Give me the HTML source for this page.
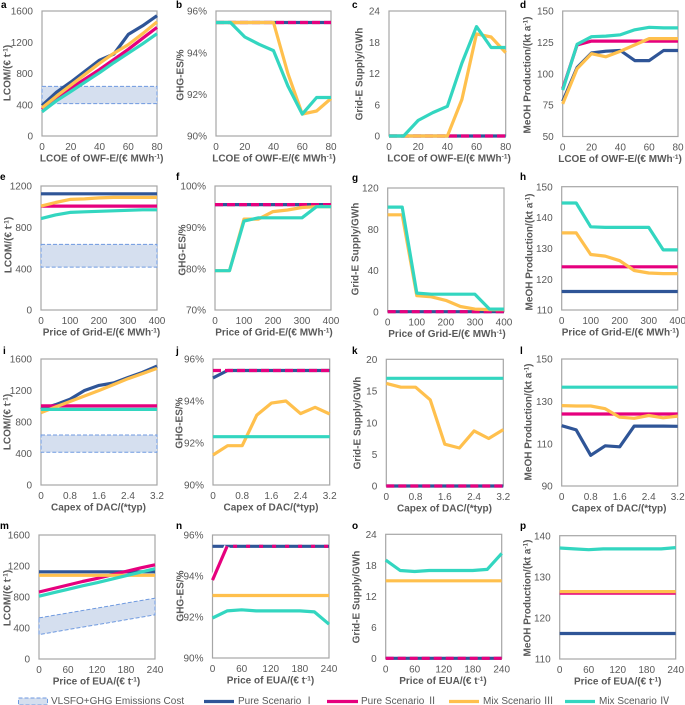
<!DOCTYPE html>
<html lang="en">
<head>
<meta charset="utf-8">
<title>Sensitivity analysis of LCOM, GHG-ES, Grid-E supply and MeOH production</title>
<style>
html,body{margin:0;padding:0;background:#fff;}
svg{display:block;font-family:"Liberation Sans","Noto Sans CJK SC",sans-serif;filter:blur(0.35px);}
</style>
</head>
<body>
<svg id="figure" xmlns="http://www.w3.org/2000/svg" width="685" height="705" viewBox="0 0 685 705">
  <g id="panels"></g>
  <g font-size="10" fill="#595959">
    <g>
      <rect x="18.5" y="698" width="29" height="7" fill="#d5dfef" stroke="#6f9ae0" stroke-width="1" stroke-dasharray="4 2"/>
      <text x="51" y="704">VLSFO+GHG Emissions Cost</text>
    </g>
    <g>
      <line x1="204" x2="234" y1="701.5" y2="701.5" stroke="#2f5597" stroke-width="3.2"/>
      <text x="238" y="704">Pure Scenario Ⅰ</text>
    </g>
    <g>
      <line x1="327" x2="358" y1="701.5" y2="701.5" stroke="#e6007e" stroke-width="3.2"/>
      <text x="361" y="704">Pure Scenario Ⅱ</text>
    </g>
    <g>
      <line x1="449" x2="479" y1="701.5" y2="701.5" stroke="#ffc04d" stroke-width="3.2"/>
      <text x="483" y="704">Mix Scenario Ⅲ</text>
    </g>
    <g>
      <line x1="565" x2="595" y1="701.5" y2="701.5" stroke="#33d6c0" stroke-width="3.2"/>
      <text x="599" y="704">Mix Scenario Ⅳ</text>
    </g>
  </g>
</svg>
<script>
// Sweep points (categories) for each row
const lcoePoints = [0,10,20,30,40,50,60,70,80];
const gridPoints = [0,50,100,150,200,250,300,350,400];
const dacPoints  = [0,0.4,0.8,1.2,1.6,2,2.4,2.8,3.2];
const euaPoints  = [0,30,60,90,120,150,180,210,240];

// X tick labels
const lcoeTicks = [0,20,40,60,80];
const gridTicks = [0,100,200,300,400];
const dacTicks  = [0,0.8,1.6,2.4,3.2];
const euaTicks  = [0,60,120,180,240];

// Y tick labels
const lcomTicks = [0,400,800,1200,1600];
const lcomTicksE = [0,400,800,1200];
const ghgTicks = [90,92,94,96];
const ghgTicksF = [70,80,90,100];
const gridSupplyTicksC = [0,6,12,18,24];
const gridSupplyTicksG = [0,40,80,120];
const gridSupplyTicksK = [0,5,10,15,20];
const meohTicksD = [50,75,100,125,150];
const meohTicksH = [110,120,130,140,150];
const meohTicksL = [90,110,130,150];
const meohTicksP = [110,120,130,140];

// VLSFO + GHG band
const bandLowFlat  = [415,415,415,415,415,415,415,415,415];
const bandHighFlat = [635,635,635,635,635,635,635,635,635];
const bandLowEua   = [315,347,379,411,442,474,506,538,570];
const bandHighEua  = [530,562,594,626,657,689,721,753,785];

// Panel a
const aPure1 = [390,560,690,830,970,1050,1300,1410,1540];
const aPure2 = [340,490,610,730,850,980,1110,1250,1390];
const aMix3  = [360,510,650,790,930,1060,1170,1310,1460];
const aMix4  = [310,450,570,690,810,940,1060,1180,1310];
// Panel b
const bPure1 = [95.45,95.45,95.45,95.45,95.45,95.45,95.45,95.45,95.45];
const bPure2 = [95.45,95.45,95.45,95.45,95.45,95.45,95.45,95.45,95.45];
const bMix3  = [95.45,95.45,95.45,95.45,95.45,93,91.05,91.2,91.8];
const bMix4  = [95.45,95.45,94.75,94.4,94.1,92.4,91.05,91.85,91.85];
// Panel c
const cPure1 = [0,0,0,0,0,0,0,0,0];
const cPure2 = [0,0,0,0,0,0,0,0,0];
const cMix3  = [0,0,0,0,0,7,19.6,19,16];
const cMix4  = [0,0,3,4.5,5.7,14,21,17,17];
// Panel d
const dPure1 = [78,105,116.5,118,118.5,110.5,110.5,118.5,118.5];
const dPure2 = [88,123,126,126,126,126,126,126,126];
const dMix3  = [76,104,116,113.5,118,123,128,128,128];
const dMix4  = [87,123.5,129.5,130,131,135,137,136.5,136.5];
// Panel e
const ePure1 = [1125,1125,1125,1125,1125,1125,1125,1125,1125];
const ePure2 = [1005,1005,1005,1005,1005,1005,1005,1005,1005];
const eMix3  = [1005,1040,1070,1075,1085,1090,1090,1090,1090];
const eMix4  = [885,920,945,950,955,960,965,970,970];
// Panel f
const fPure1 = [95.5,95.5,95.5,95.5,95.5,95.5,95.5,95.5,95.5];
const fPure2 = [95.5,95.5,95.5,95.5,95.5,95.5,95.5,95.5,95.5];
const fMix3  = [79.5,79.5,92,92,93.8,94.2,94.8,95,95];
const fMix4  = [79.5,79.5,91.5,92.3,92.3,92.3,92.3,95,95];
// Panel g
const gPure1 = [0,0,0,0,0,0,0,0,0];
const gPure2 = [0,0,0,0,0,0,0,0,0];
const gMix3  = [94,94,15.5,14.5,11,5,2.5,2,2];
const gMix4  = [101.5,101.5,18,17,17,17,17,2.5,2.5];
// Panel h
const hPure1 = [116,116,116,116,116,116,116,116,116];
const hPure2 = [124,124,124,124,124,124,124,124,124];
const hMix3  = [135,135,128,127.5,126,122.8,122,121.8,121.8];
const hMix4  = [144.7,144.7,137,136.8,136.8,136.8,136.8,129.5,129.5];
// Panel i
const iPure1 = [960,1020,1090,1200,1265,1295,1365,1430,1510];
const iPure2 = [1005,1005,1005,1005,1005,1005,1005,1005,1005];
const iMix3  = [920,990,1060,1130,1200,1275,1350,1415,1480];
const iMix4  = [960,960,960,960,960,960,960,960,960];
// Panel j
const jPure1 = [95.1,95.45,95.45,95.45,95.45,95.45,95.45,95.45,95.45];
const jPure2 = [95.45,95.45,95.45,95.45,95.45,95.45,95.45,95.45,95.45];
const jMix3  = [91.43,91.87,91.87,93.33,93.9,94,93.4,93.7,93.38];
const jMix4  = [92.3,92.3,92.3,92.3,92.3,92.3,92.3,92.3,92.3];
// Panel k
const kPure1 = [0,0,0,0,0,0,0,0,0];
const kPure2 = [0,0,0,0,0,0,0,0,0];
const kMix3  = [16.2,15.6,15.6,13.6,6.6,6,8.7,7.5,8.9];
const kMix4  = [17,17,17,17,17,17,17,17,17];
// Panel l
const lPure1 = [118.5,116.5,104.5,109,108.5,118.3,118.3,118.3,118.2];
const lPure2 = [124,124,124,124,124,124,124,124,124];
const lMix3  = [128,127.8,127.8,126.5,122.5,122,123.3,122.2,123];
const lMix4  = [136.7,136.7,136.7,136.7,136.7,136.7,136.7,136.7,136.7];
// Panel m
const mPure1 = [1125,1125,1125,1125,1125,1125,1125,1125,1125];
const mPure2 = [865,910,955,1000,1040,1085,1130,1175,1215];
const mMix3  = [1080,1080,1080,1080,1080,1080,1080,1080,1080];
const mMix4  = [810,855,900,945,985,1030,1075,1120,1165];
// Panel n
const nPure1 = [95.45,95.45,95.45,95.45,95.45,95.45,95.45,95.45,95.45];
const nPure2 = [93.8,95.45,95.45,95.45,95.45,95.45,95.45,95.45,95.45];
const nMix3  = [93.05,93.05,93.05,93.05,93.05,93.05,93.05,93.05,93.05];
const nMix4  = [91.95,92.3,92.35,92.3,92.3,92.3,92.3,92.25,91.65];
// Panel o
const oPure1 = [0,0,0,0,0,0,0,0,0];
const oPure2 = [0,0,0,0,0,0,0,0,0];
const oMix3  = [15,15,15,15,15,15,15,15,15];
const oMix4  = [19,17,16.8,17,17,17,17,17.2,20.3];
// Panel p
const pPure1 = [116.2,116.2,116.2,116.2,116.2,116.2,116.2,116.2,116.2];
const pPure2 = [126,126,126,126,126,126,126,126,126];
const pMix3  = [126.4,126.4,126.4,126.4,126.4,126.4,126.4,126.4,126.4];
const pMix4  = [137,136.8,136.6,136.8,136.8,136.8,136.8,136.8,137.1];

const lcoeTitle = 'LCOE of OWF-E/(€ MWh^-1^)';
const gridTitle = 'Price of Grid-E/(€ MWh^-1^)';
const dacTitle  = 'Capex of DAC/(*typ)';
const euaTitle  = 'Price of EUA/(€ t^-1^)';
const lcomTitle = 'LCOM/(€ t^-1^)';
const ghgTitle  = 'GHG-ES/%';
const supplyTitle = 'Grid-E Supply/GWh';
const meohTitle = 'MeOH Production/(kt a^-1^)';

const colors = ['#2f5597','#e6007e','#ffc04d','#33d6c0'];
const seriesNames = ['pure-scenario-1','pure-scenario-2','mix-scenario-3','mix-scenario-4'];
const SVGNS = 'http://www.w3.org/2000/svg';
const root = document.getElementById('panels');

function draw(letter, frame, titles, xs, xTicks, yTicks, suffix, series, band, dash) {
  const [x0, x1, y0, y1, xtc, ytx, ytc, lx, ly] = frame;
  const g = document.createElementNS(SVGNS, 'g');
  
  
  root.appendChild(g);
  const xMin = xTicks[0], xMax = xTicks[xTicks.length - 1];
  const yMin = yTicks[0], yMax = yTicks[yTicks.length - 1];
  const sx = v => x0 + (v - xMin) / (xMax - xMin) * (x1 - x0);
  const sy = v => y1 - (v - yMin) / (yMax - yMin) * (y1 - y0);
  const toPoints = (vals, from, to) => xs.slice(from, to).map((x, i) => sx(x).toFixed(1) + ',' + sy(vals[from + i]).toFixed(1)).join(' ');

  const frameRect = document.createElementNS(SVGNS, 'rect');
  
  
  frameRect.setAttribute('x', x0);
  frameRect.setAttribute('y', y0);
  frameRect.setAttribute('width', x1 - x0);
  frameRect.setAttribute('height', y1 - y0);
  frameRect.setAttribute('fill', '#fff');
  frameRect.setAttribute('stroke', '#a6a6a6');
  frameRect.setAttribute('stroke-width', '1.2');
  g.appendChild(frameRect);

  if (band) {
    const pts = xs.map((x, i) => sx(x).toFixed(1) + ',' + sy(band[1][i]).toFixed(1))
      .concat(xs.map((x, i) => sx(x).toFixed(1) + ',' + sy(band[0][i]).toFixed(1)).reverse());
    const bandShape = document.createElementNS(SVGNS, 'polygon');
    
    
    bandShape.setAttribute('points', pts.join(' '));
    bandShape.setAttribute('fill', '#d5dfef');
    bandShape.setAttribute('stroke', '#6f9ae0');
    bandShape.setAttribute('stroke-width', '1');
    bandShape.setAttribute('stroke-dasharray', '4 2');
    g.appendChild(bandShape);
  }

  series.forEach((vals, s) => {
    const dashed = s === 1 && dash;
    // The dash only applies where this series overlaps Pure I; the part that
    // climbs to the shared level stays solid, with a thin white edge.
    let start = 0;
    if (dashed) {
      const flatValue = vals[vals.length - 1];
      start = vals.findIndex(v => v === flatValue);
    }
    if (start > 0) {
      const halo = document.createElementNS(SVGNS, 'polyline');
      
      
      halo.setAttribute('points', toPoints(vals, 0, start + 1));
      halo.setAttribute('fill', 'none');
      halo.setAttribute('stroke', '#fff');
      halo.setAttribute('stroke-width', '6');
      g.appendChild(halo);
      const rise = document.createElementNS(SVGNS, 'polyline');
      
      
      rise.setAttribute('points', toPoints(vals, 0, start + 1));
      rise.setAttribute('fill', 'none');
      rise.setAttribute('stroke', colors[s]);
      rise.setAttribute('stroke-width', '3.2');
      g.appendChild(rise);
    }
    const line = document.createElementNS(SVGNS, 'polyline');
    
    
    line.setAttribute('points', toPoints(vals, start, vals.length));
    line.setAttribute('fill', 'none');
    line.setAttribute('stroke', colors[s]);
    line.setAttribute('stroke-width', '3.2');
    line.setAttribute('stroke-linejoin', 'round');
    if (dashed) line.setAttribute('stroke-dasharray', dash);
    if (dashed && start > 0) line.setAttribute('stroke-dashoffset', '7');
    g.appendChild(line);
  });

  xTicks.forEach(t => {
    const lab = document.createElementNS(SVGNS, 'text');
    
    
    lab.setAttribute('x', sx(t));
    lab.setAttribute('y', y1 + 14);
    lab.setAttribute('text-anchor', 'middle');
    lab.setAttribute('font-size', '10');
    lab.setAttribute('fill', '#595959');
    lab.textContent = t;
    g.appendChild(lab);
  });
  yTicks.forEach(t => {
    const lab = document.createElementNS(SVGNS, 'text');
    
    
    lab.setAttribute('x', x0 - 9);
    lab.setAttribute('y', sy(t) + 3.6);
    lab.setAttribute('text-anchor', 'end');
    lab.setAttribute('font-size', '10');
    lab.setAttribute('fill', '#595959');
    lab.textContent = t + suffix;
    g.appendChild(lab);
  });

  const xt = document.createElementNS(SVGNS, 'text');
  
  
  xt.setAttribute('x', xtc);
  xt.setAttribute('y', y1 + 25.5);
  fillTitle(xt, titles[0]);
  g.appendChild(xt);

  const yt = document.createElementNS(SVGNS, 'text');
  
  
  yt.setAttribute('transform', 'translate(' + (ytx + 3.5) + ' ' + ytc + ') rotate(-90)');
  fillTitle(yt, titles[1]);
  g.appendChild(yt);

  const pl = document.createElementNS(SVGNS, 'text');
  
  
  pl.setAttribute('x', lx);
  pl.setAttribute('y', ly);
  pl.setAttribute('font-size', '10');
  pl.setAttribute('font-weight', 'bold');
  pl.setAttribute('fill', '#000');
  pl.textContent = letter;
  g.appendChild(pl);
}

function fillTitle(el, str) {
  el.setAttribute('text-anchor', 'middle');
  el.setAttribute('font-size', '10');
  el.setAttribute('font-weight', 'bold');
  el.setAttribute('fill', '#595959');
  str.split('^').forEach((part, i) => {
    if (!part) return;
    const span = document.createElementNS(SVGNS, 'tspan');
    span.textContent = part;
    if (i === 1) { span.setAttribute('font-size', '6.5'); span.setAttribute('dy', '-3'); }
    if (i === 2) { span.setAttribute('dy', '3'); }
    el.appendChild(span);
  });
}

const bandFlat = [bandLowFlat, bandHighFlat];
const bandEua = [bandLowEua, bandHighEua];

draw('a',[42,157,11,136,101.7,7,73,1,8],[lcoeTitle,lcomTitle],lcoePoints,lcoeTicks,lcomTicks,'',[aPure1,aPure2,aMix3,aMix4],bandFlat,null);
draw('b',[216,331,11,136,274,180,75,176,8],[lcoeTitle,ghgTitle],lcoePoints,lcoeTicks,ghgTicks,'%',[bPure1,bPure2,bMix3,bMix4],null,'8 4');
draw('c',[389,505.7,11,136,449,359,74,352,8],[lcoeTitle,supplyTitle],lcoePoints,lcoeTicks,gridSupplyTicksC,'',[cPure1,cPure2,cMix3,cMix4],null,'8 4');
draw('d',[562.7,678,11,136.5,620,527,75,520,8],[lcoeTitle,meohTitle],lcoePoints,lcoeTicks,meohTicksD,'',[dPure1,dPure2,dMix3,dMix4],null,null);
draw('e',[41,157,186,310,101.5,8,245,0,180],[gridTitle,lcomTitle],gridPoints,gridTicks,lcomTicksE,'',[ePure1,ePure2,eMix3,eMix4],bandFlat,null);
draw('f',[215,331,186,310,274,182,250,176,180],[gridTitle,ghgTitle],gridPoints,gridTicks,ghgTicksF,'%',[fPure1,fPure2,fMix3,fMix4],null,'8 4');
draw('g',[387.7,504,188,311.7,447,355,249,352,181],[gridTitle,supplyTitle],gridPoints,gridTicks,gridSupplyTicksG,'',[gPure1,gPure2,gMix3,gMix4],null,'8 4');
draw('h',[561.7,677.7,186.7,310,620.5,529,252,520,180],[gridTitle,meohTitle],gridPoints,gridTicks,meohTicksH,'',[hPure1,hPure2,hMix3,hMix4],null,null);
draw('i',[41,157,359,485,98.5,7,422,3,354],[dacTitle,lcomTitle],dacPoints,dacTicks,lcomTicks,'',[iPure1,iPure2,iMix3,iMix4],bandFlat,null);
draw('j',[213,329.7,359,485,271,179,423,176,354],[dacTitle,ghgTitle],dacPoints,dacTicks,ghgTicks,'%',[jPure1,jPure2,jMix3,jMix4],null,'8 4');
draw('k',[386.3,503.3,359.3,486,444.5,357,423,352,354],[dacTitle,supplyTitle],dacPoints,dacTicks,gridSupplyTicksK,'',[kPure1,kPure2,kMix3,kMix4],null,'8 4');
draw('l',[561.7,677.7,359,486,619,528,422,520,354],[dacTitle,meohTitle],dacPoints,dacTicks,meohTicksL,'',[lPure1,lPure2,lMix3,lMix4],null,null);
draw('m',[39,155,535,659,96.5,7,598,0,529],[euaTitle,lcomTitle],euaPoints,euaTicks,lcomTicks,'',[mPure1,mPure2,mMix3,mMix4],bandEua,null);
draw('n',[212.5,329,535,658,270.5,180,596,176,529],[euaTitle,ghgTitle],euaPoints,euaTicks,ghgTicks,'%',[nPure1,nPure2,nMix3,nMix4],null,'4 9');
draw('o',[385.7,501.7,534.3,658.3,443,356,597,352,529],[euaTitle,supplyTitle],euaPoints,euaTicks,gridSupplyTicksC,'',[oPure1,oPure2,oMix3,oMix4],null,'8 4');
draw('p',[559.7,675.7,535.7,659,617.7,527,598,520,529],[euaTitle,meohTitle],euaPoints,euaTicks,meohTicksP,'',[pPure1,pPure2,pMix3,pMix4],null,null);
</script>
</body>
</html>
